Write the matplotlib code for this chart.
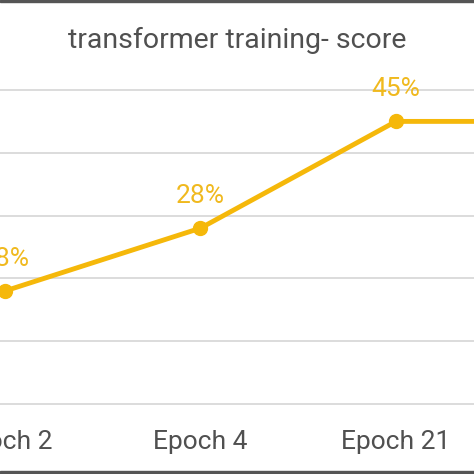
import matplotlib
matplotlib.use("Agg")
from matplotlib import pyplot as plt
from matplotlib.patches import Rectangle

# data (left/right parts are cropped in the original)
epochs = ["Epoch 2", "Epoch 4", "Epoch 21", ""]
scores = [0.18, 0.28, 0.45, 0.45]
labels = ["18%", "28%", "45%", ""]
grid_ticks = [0.0, 0.1, 0.2, 0.3, 0.4, 0.5]

line_color = "#F5B80A"
text_color = "#505050"

plt.rcParams["font.family"] = ["Roboto", "DejaVu Sans"]

fig = plt.figure(figsize=(4.74, 4.74), dpi=100)
W = H = 474.0

# axes placed so the chart is cropped like the reference
ax_top_px, ax_bot_px = 70.0, 415.0
ax = fig.add_axes([0, (H - ax_bot_px) / H, 1, (ax_bot_px - ax_top_px) / H])

x = list(range(len(epochs)))
ax.plot(x, scores, color=line_color, linewidth=3.5, marker="o",
        markersize=10, solid_capstyle="round", zorder=3)

for xi, yi, lab in zip(x, scores, labels):
    if lab:
        ax.annotate(lab, (xi, yi), xytext=(0, 23), textcoords="offset points",
                    ha="center", va="center", color="#F0B91E", fontsize=19)

ax.set_yticks(grid_ticks)
ax.yaxis.grid(True, color="#d9d9d9", linewidth=1.3)
ax.set_axisbelow(True)
ax.tick_params(axis="y", left=False, labelleft=False)
ax.set_xticks(x)
ax.set_xticklabels(epochs)
ax.tick_params(axis="x", bottom=False, pad=7, labelsize=19, labelcolor=text_color)
for s in ax.spines.values():
    s.set_visible(False)

# pixel -> data mapping: 0% at y=404px, 10% every 62.8px; epochs every 195.5px from x=5
px_per_unit_y = 628.0
ax.set_ylim(-(ax_bot_px - 404) / px_per_unit_y, (404 - ax_top_px) / px_per_unit_y)
ax.set_xlim(-5 / 195.5, (W - 5) / 195.5)

fig.text(0.5, (H - 40) / H, "transformer training- score", ha="center",
         va="center", fontsize=20.5, color=text_color)

# dark frame edges from the screenshot
fig.add_artist(Rectangle((0, 1 - 2 / H), 1, 2 / H, transform=fig.transFigure,
                         color="#555555", zorder=10))
fig.add_artist(Rectangle((0, 0), 1, 3 / H, transform=fig.transFigure,
                         color="#555555", zorder=10))

fig.savefig("out.png", dpi=100)
